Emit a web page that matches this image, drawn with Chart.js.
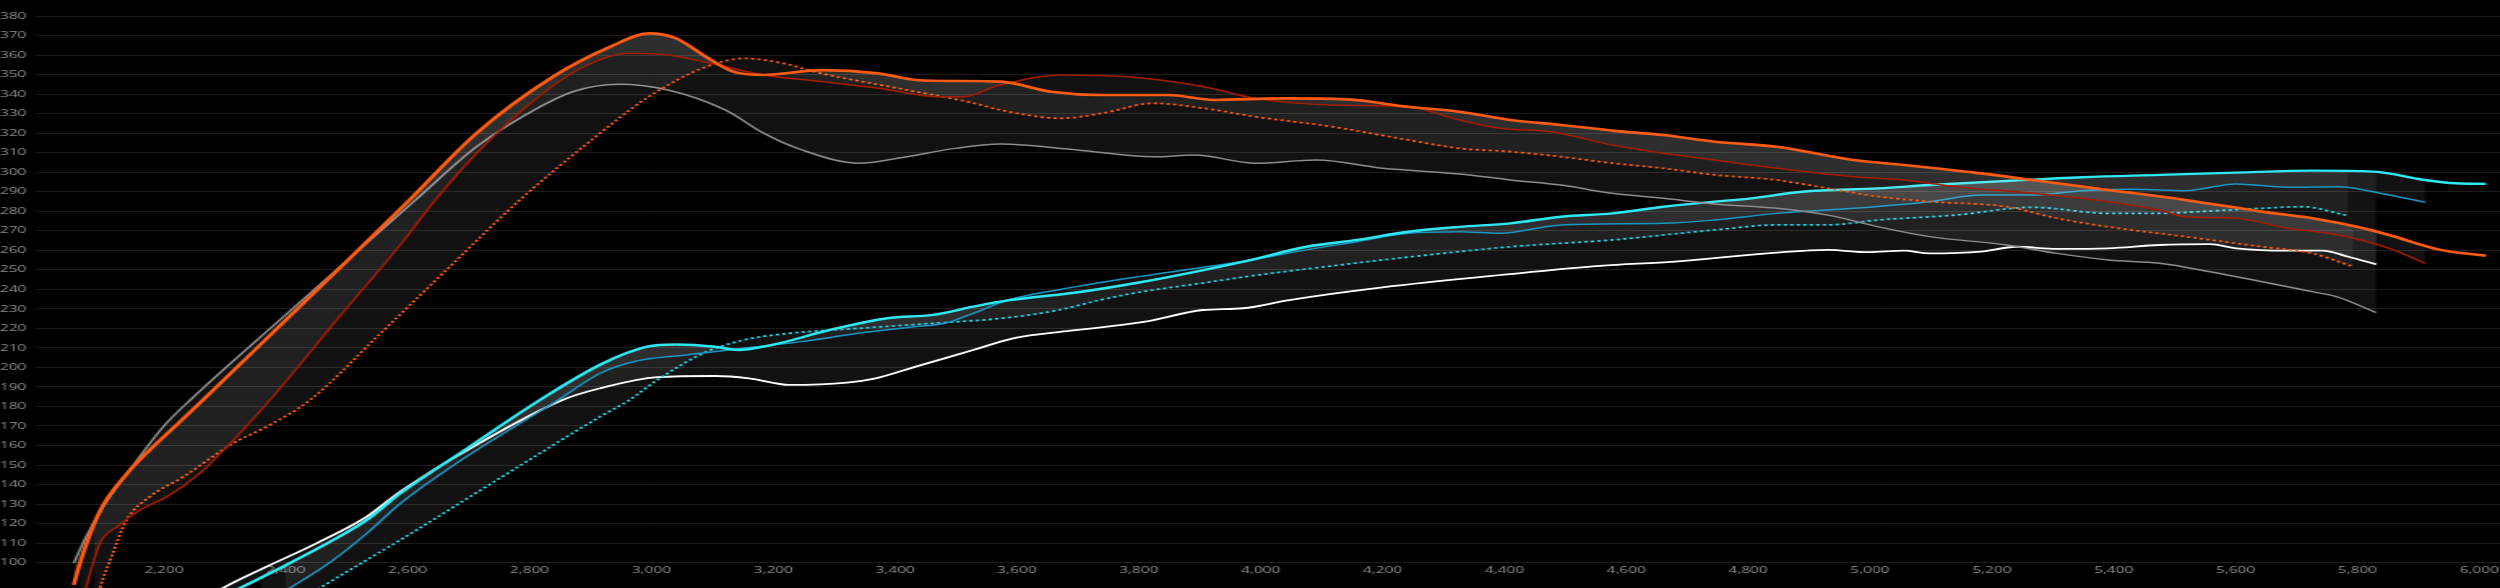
<!DOCTYPE html>
<html>
<head>
<meta charset="utf-8">
<script src="https://cdn.jsdelivr.net/npm/chart.js@4/dist/chart.umd.min.js"></script>
<style>
  html, body { margin: 0; padding: 0; background: #000; overflow: hidden; }
  /* chart is drawn narrow and stretched sideways, like the reference */
  #dyno { display: block; width: 2500px !important; height: 588px !important; background: #000; }
</style>
</head>
<body>
<canvas id="dyno" width="1540" height="588"></canvas>
<script>
// tick labels
const rpmTicks = [2200, 2400, 2600, 2800, 3000, 3200, 3400, 3600, 3800, 4000, 4200, 4400, 4600, 4800, 5000, 5200, 5400, 5600, 5800, 6000];
const valueTicks = [100, 110, 120, 130, 140, 150, 160, 170, 180, 190, 200, 210, 220, 230, 240, 250, 260, 270, 280, 290, 300, 310, 320, 330, 340, 350, 360, 370, 380];

// power runs
const rpmOrange = [2052, 2062, 2095, 2139, 2177, 2221, 2264, 2400, 2500, 2603, 2713, 2839, 2933, 2996, 3040, 3090, 3134, 3184, 3279, 3372, 3435, 3499, 3573, 3656, 3740, 3848, 3924, 4033, 4142, 4242, 4326, 4410, 4493, 4577, 4661, 4745, 4847, 4973, 5056, 5182, 5266, 5391, 5517, 5643, 5726, 5810, 5852, 5936, 6011];
const valOrange = [88.6, 99.7, 126.5, 145.5, 157.8, 170.6, 183.3, 224.3, 254.4, 285.8, 320, 349, 364.3, 371.1, 368.6, 359, 351.5, 349.8, 352.3, 350.6, 347.2, 346.7, 346.4, 341.2, 339.5, 339.5, 337, 337.8, 337.3, 333.5, 331, 326.7, 324.2, 321.3, 319, 315.6, 313, 306.2, 303.7, 299.4, 296, 290.9, 285.8, 279.8, 276.4, 271.3, 267.8, 260.2, 257.2];

const rpmRed = [2062, 2072, 2095, 2123, 2161, 2205, 2259, 2314, 2374, 2488, 2591, 2638, 2713, 2808, 2889, 2964, 3027, 3109, 3184, 3279, 3372, 3467, 3510, 3573, 3673, 3782, 3907, 3991, 4117, 4242, 4326, 4393, 4477, 4577, 4661, 4745, 4847, 4973, 5056, 5140, 5266, 5391, 5475, 5517, 5601, 5685, 5768, 5852, 5911];
const valRed = [76, 87, 110, 118.4, 127, 133.8, 145.8, 162.8, 183.3, 226, 264, 283, 309.7, 337, 354, 360.9, 360, 354.9, 349.8, 346.4, 343, 338.7, 338.6, 344.7, 349.8, 348.9, 343.8, 337.8, 334.4, 333.5, 326.7, 322.5, 320.7, 313.9, 309.7, 306.2, 302, 297.7, 296, 292.6, 289.2, 284.9, 280.6, 277.2, 276.4, 271.3, 267.8, 261, 253.3];

const rpmOrangeDot = [2085, 2095, 2112, 2139, 2177, 2232, 2314, 2369, 2440, 2554, 2664, 2785, 2902, 2996, 3090, 3153, 3216, 3279, 3404, 3530, 3572, 3673, 3740, 3824, 3907, 3991, 4117, 4242, 4326, 4410, 4493, 4577, 4661, 4745, 4847, 4931, 5014, 5098, 5224, 5307, 5391, 5517, 5643, 5726, 5793];
const valOrangeDot = [75, 87, 101.4, 121.9, 133.8, 144, 161.2, 169.7, 183.3, 217, 250, 286, 316.5, 338.7, 354, 358.3, 355.8, 350.6, 343, 335.3, 331.9, 327.6, 330.2, 335.3, 332.7, 328.4, 323.3, 316.5, 312.2, 310.5, 307.9, 304.6, 302, 298.6, 296, 291.7, 287.5, 284.9, 282.3, 276.4, 272, 267, 261.8, 258.4, 251.6];

const rpmGrey = [2052, 2070, 2100, 2150, 2200, 2243, 2400, 2613, 2713, 2808, 2871, 2946, 3027, 3121, 3184, 3247, 3341, 3404, 3499, 3573, 3698, 3824, 3891, 3991, 4091, 4200, 4326, 4410, 4493, 4577, 4661, 4745, 4847, 4931, 5014, 5098, 5224, 5307, 5391, 5475, 5558, 5643, 5726, 5768, 5831];
const valGrey = [99.7, 112, 128.5, 150, 170, 183.3, 227, 285.8, 313, 331.9, 341.2, 345, 342.1, 331.9, 320, 311.4, 304.6, 307.1, 312.2, 314.4, 311.4, 307.9, 308.8, 304.6, 306.2, 302, 299.1, 296, 293.4, 289.2, 286.6, 283.7, 281.5, 278, 272, 267, 262.7, 258.4, 255, 253.3, 249, 243.9, 238.8, 236, 228];

// torque runs
const rpmCyan = [2260, 2325, 2396, 2478, 2533, 2588, 2700, 2817, 2920, 2993, 3040, 3104, 3142, 3198, 3293, 3387, 3462, 3528, 3585, 3700, 3800, 3900, 3983, 4075, 4158, 4242, 4326, 4410, 4493, 4577, 4661, 4745, 4805, 4889, 5014, 5098, 5224, 5349, 5475, 5601, 5726, 5827, 5911, 5961, 6011];
const valCyan = [77, 87, 98, 111.6, 121.9, 135.5, 159, 183.3, 202, 210.6, 211.7, 210.6, 208.9, 211.5, 219.2, 225.2, 226.9, 231.1, 234.3, 238.5, 243.5, 249.5, 255, 261.8, 265.3, 269.5, 272, 273.8, 277.2, 278.9, 282.3, 284.9, 286.6, 290, 291.7, 293.4, 295.5, 297.4, 298.6, 299.8, 300.8, 300.3, 296, 294.3, 294];

const rpmBlue = [2360, 2407, 2478, 2533, 2588, 2700, 2847, 2916, 2972, 3057, 3151, 3246, 3340, 3434, 3481, 3528, 3585, 3700, 3800, 3900, 3975, 4075, 4158, 4242, 4326, 4393, 4493, 4661, 4745, 4847, 4973, 5098, 5182, 5266, 5349, 5433, 5517, 5601, 5685, 5768, 5852, 5911];
const valBlue = [78, 87, 101.4, 115, 130.3, 155, 183.3, 197, 203, 206.4, 209.8, 213.2, 217.5, 220.9, 222.6, 227.7, 234.5, 241.5, 246.5, 251, 254.5, 260.2, 264.4, 268.7, 269.5, 268.7, 273, 273.8, 275.5, 278.9, 281.5, 284.9, 288.3, 288.3, 290.5, 291.2, 290.5, 294, 292.3, 292.6, 288.3, 284.6];

const rpmCyanDot = [2400, 2456, 2533, 2588, 2750, 2916, 2964, 3010, 3085, 3151, 3227, 3340, 3462, 3576, 3669, 3736, 3800, 3900, 4000, 4091, 4242, 4410, 4577, 4745, 4847, 4931, 5014, 5140, 5266, 5391, 5475, 5558, 5643, 5710, 5785];
const valCyanDot = [76, 87, 101.4, 111.6, 143, 174.8, 183.3, 193.6, 207.2, 214, 217.5, 220, 222.6, 225.2, 229.4, 234.5, 238.5, 243, 247.5, 251, 256.5, 261.8, 265.3, 270.4, 273, 273, 275.5, 278, 282, 278.9, 278.9, 280.1, 281.5, 282.3, 277.6];

const rpmWhite = [2250, 2297, 2369, 2451, 2533, 2588, 2700, 2854, 2916, 3010, 3104, 3160, 3227, 3321, 3368, 3434, 3528, 3594, 3688, 3811, 3905, 3971, 4047, 4200, 4400, 4557, 4680, 4847, 4931, 4997, 5056, 5098, 5182, 5240, 5307, 5391, 5475, 5558, 5601, 5685, 5743, 5785, 5831];
const valWhite = [78, 87, 98, 110, 123.6, 136.4, 158, 183.3, 189.3, 195, 195.6, 194.4, 191, 192.2, 194.4, 200.4, 208.9, 214.9, 218.8, 223.4, 229.4, 230.3, 234.5, 241, 247.5, 252, 254.2, 258.8, 260.2, 259, 259.8, 258.4, 259.3, 261.8, 260.7, 261, 262.7, 263.1, 261, 259.8, 259.8, 256.7, 252.8];

const shade = 'rgba(255,255,255,0.065)';

function run(rpm, vals, color, width, dash, fillTo) {
    return {
        data: rpm.map((x, i) => ({ x: x, y: vals[i] })),
        borderColor: color,
        borderWidth: width,
        borderDash: dash,
        backgroundColor: shade,
        fill: fillTo,
        pointRadius: 0,
        cubicInterpolationMode: 'monotone'
    };
}

// axes sit inside the plot, so they must not push the chart area in
function flatAxis(size) {
    return s => {
        if (s.isHorizontal()) s.height = size; else s.width = size;
        s.paddingLeft = s.paddingRight = s.paddingTop = s.paddingBottom = 0;
    };
}

new Chart(document.getElementById('dyno'), {
    type: 'line',
    data: {
        datasets: [
            run(rpmOrange, valOrange, '#ff5b12', 2.6, [], false),
            run(rpmRed, valRed, '#a61c02', 1.5, [], 0),
            run(rpmOrangeDot, valOrangeDot, '#ff5b12', 1.8, [2, 2], 0),
            run(rpmGrey, valGrey, '#8c8c8c', 1.5, [], 0),
            run(rpmCyan, valCyan, '#2ee9f3', 2.4, [], false),
            run(rpmBlue, valBlue, '#1896c4', 1.5, [], 4),
            run(rpmCyanDot, valCyanDot, '#25d8e8', 1.8, [2, 2], 4),
            run(rpmWhite, valWhite, '#ffffff', 1.8, [], 4)
        ]
    },
    options: {
        responsive: false,
        animation: false,
        devicePixelRatio: 1,
        layout: { padding: 0 },
        plugins: { legend: { display: false }, tooltip: { enabled: false } },
        scales: {
            x: {
                type: 'linear',
                min: 1990,
                max: 6034,
                grid: { display: false, drawTicks: false },
                border: { display: false },
                ticks: {
                    stepSize: 200,
                    mirror: true,
                    padding: 12.3,
                    autoSkip: false,
                    maxRotation: 0,
                    color: '#8e8e8e',
                    font: { family: 'Open Sans', size: 9.5 },
                    callback: v => v.toLocaleString('en-US')
                },
                afterBuildTicks: s => { s.ticks = rpmTicks.map(v => ({ value: v })); },
                afterFit: flatAxis(0)
            },
            y: {
                min: 87,
                max: 388.2,
                grid: { color: '#1c1c1c', drawTicks: false },
                border: { display: false },
                ticks: {
                    stepSize: 10,
                    padding: -10,
                    autoSkip: false,
                    crossAlign: 'far',
                    color: '#8e8e8e',
                    font: { family: 'Open Sans', size: 9.5 }
                },
                afterBuildTicks: s => { s.ticks = valueTicks.map(v => ({ value: v })); },
                afterFit: flatAxis(22.2)
            }
        }
    }
});
</script>
</body>
</html>
